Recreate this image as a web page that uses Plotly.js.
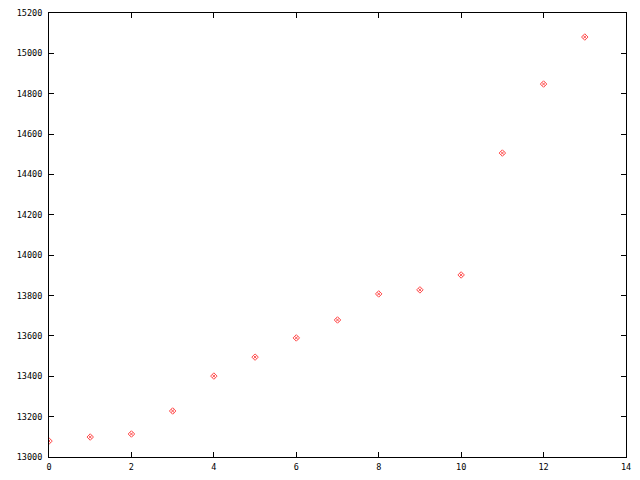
<!DOCTYPE html>
<html>
<head>
<meta charset="utf-8">
<script src="https://cdn.plot.ly/plotly-3.0.1.min.js"></script>
<style>html,body{margin:0;padding:0;background:#fff;}#chart{width:640px;height:480px;}</style>
</head>
<body>
<div id="chart"></div>
<script>
const xValues = [0, 1, 2, 3, 4, 5, 6, 7, 8, 9, 10, 11, 12, 13];
const yValues = [13079, 13099, 13114, 13228, 13401, 13495, 13590, 13679, 13808, 13828, 13902, 14506, 14848, 15081];
const xTicks = [0, 2, 4, 6, 8, 10, 12, 14];
const yTicks = [13000, 13200, 13400, 13600, 13800, 14000, 14200, 14400, 14600, 14800, 15000, 15200];

const axisFont = {family: 'DejaVu Sans Mono, monospace', size: 8.5, color: '#000'};

Plotly.newPlot('chart', [{
  x: xValues,
  y: yValues,
  mode: 'markers',
  type: 'scatter',
  marker: {symbol: 'diamond-x-open', size: 5, color: '#ff4d4d', line: {width: 1, color: '#ff4d4d'}},
  hoverinfo: 'x+y'
}], {
  width: 640,
  height: 480,
  margin: {l: 49, r: 14, t: 13, b: 23},
  paper_bgcolor: '#fff',
  plot_bgcolor: '#fff',
  showlegend: false,
  xaxis: {
    range: [0, 14],
    tickvals: xTicks,
    ticktext: xTicks.map(String),
    ticks: 'inside',
    ticklen: 5,
    tickcolor: '#000',
    showgrid: false,
    zeroline: false,
    showline: true,
    linecolor: '#000',
    linewidth: 1,
    mirror: 'allticks',
    ticklabelstandoff: 2,
    tickfont: axisFont
  },
  yaxis: {
    range: [13000, 15200],
    tickvals: yTicks,
    ticktext: yTicks.map(String),
    ticks: 'inside',
    ticklen: 5,
    tickcolor: '#000',
    showgrid: false,
    zeroline: false,
    showline: true,
    linecolor: '#000',
    linewidth: 1,
    mirror: 'allticks',
    ticklabelstandoff: 4,
    tickfont: axisFont
  }
}, {displayModeBar: false, staticPlot: true});
</script>
</body>
</html>
